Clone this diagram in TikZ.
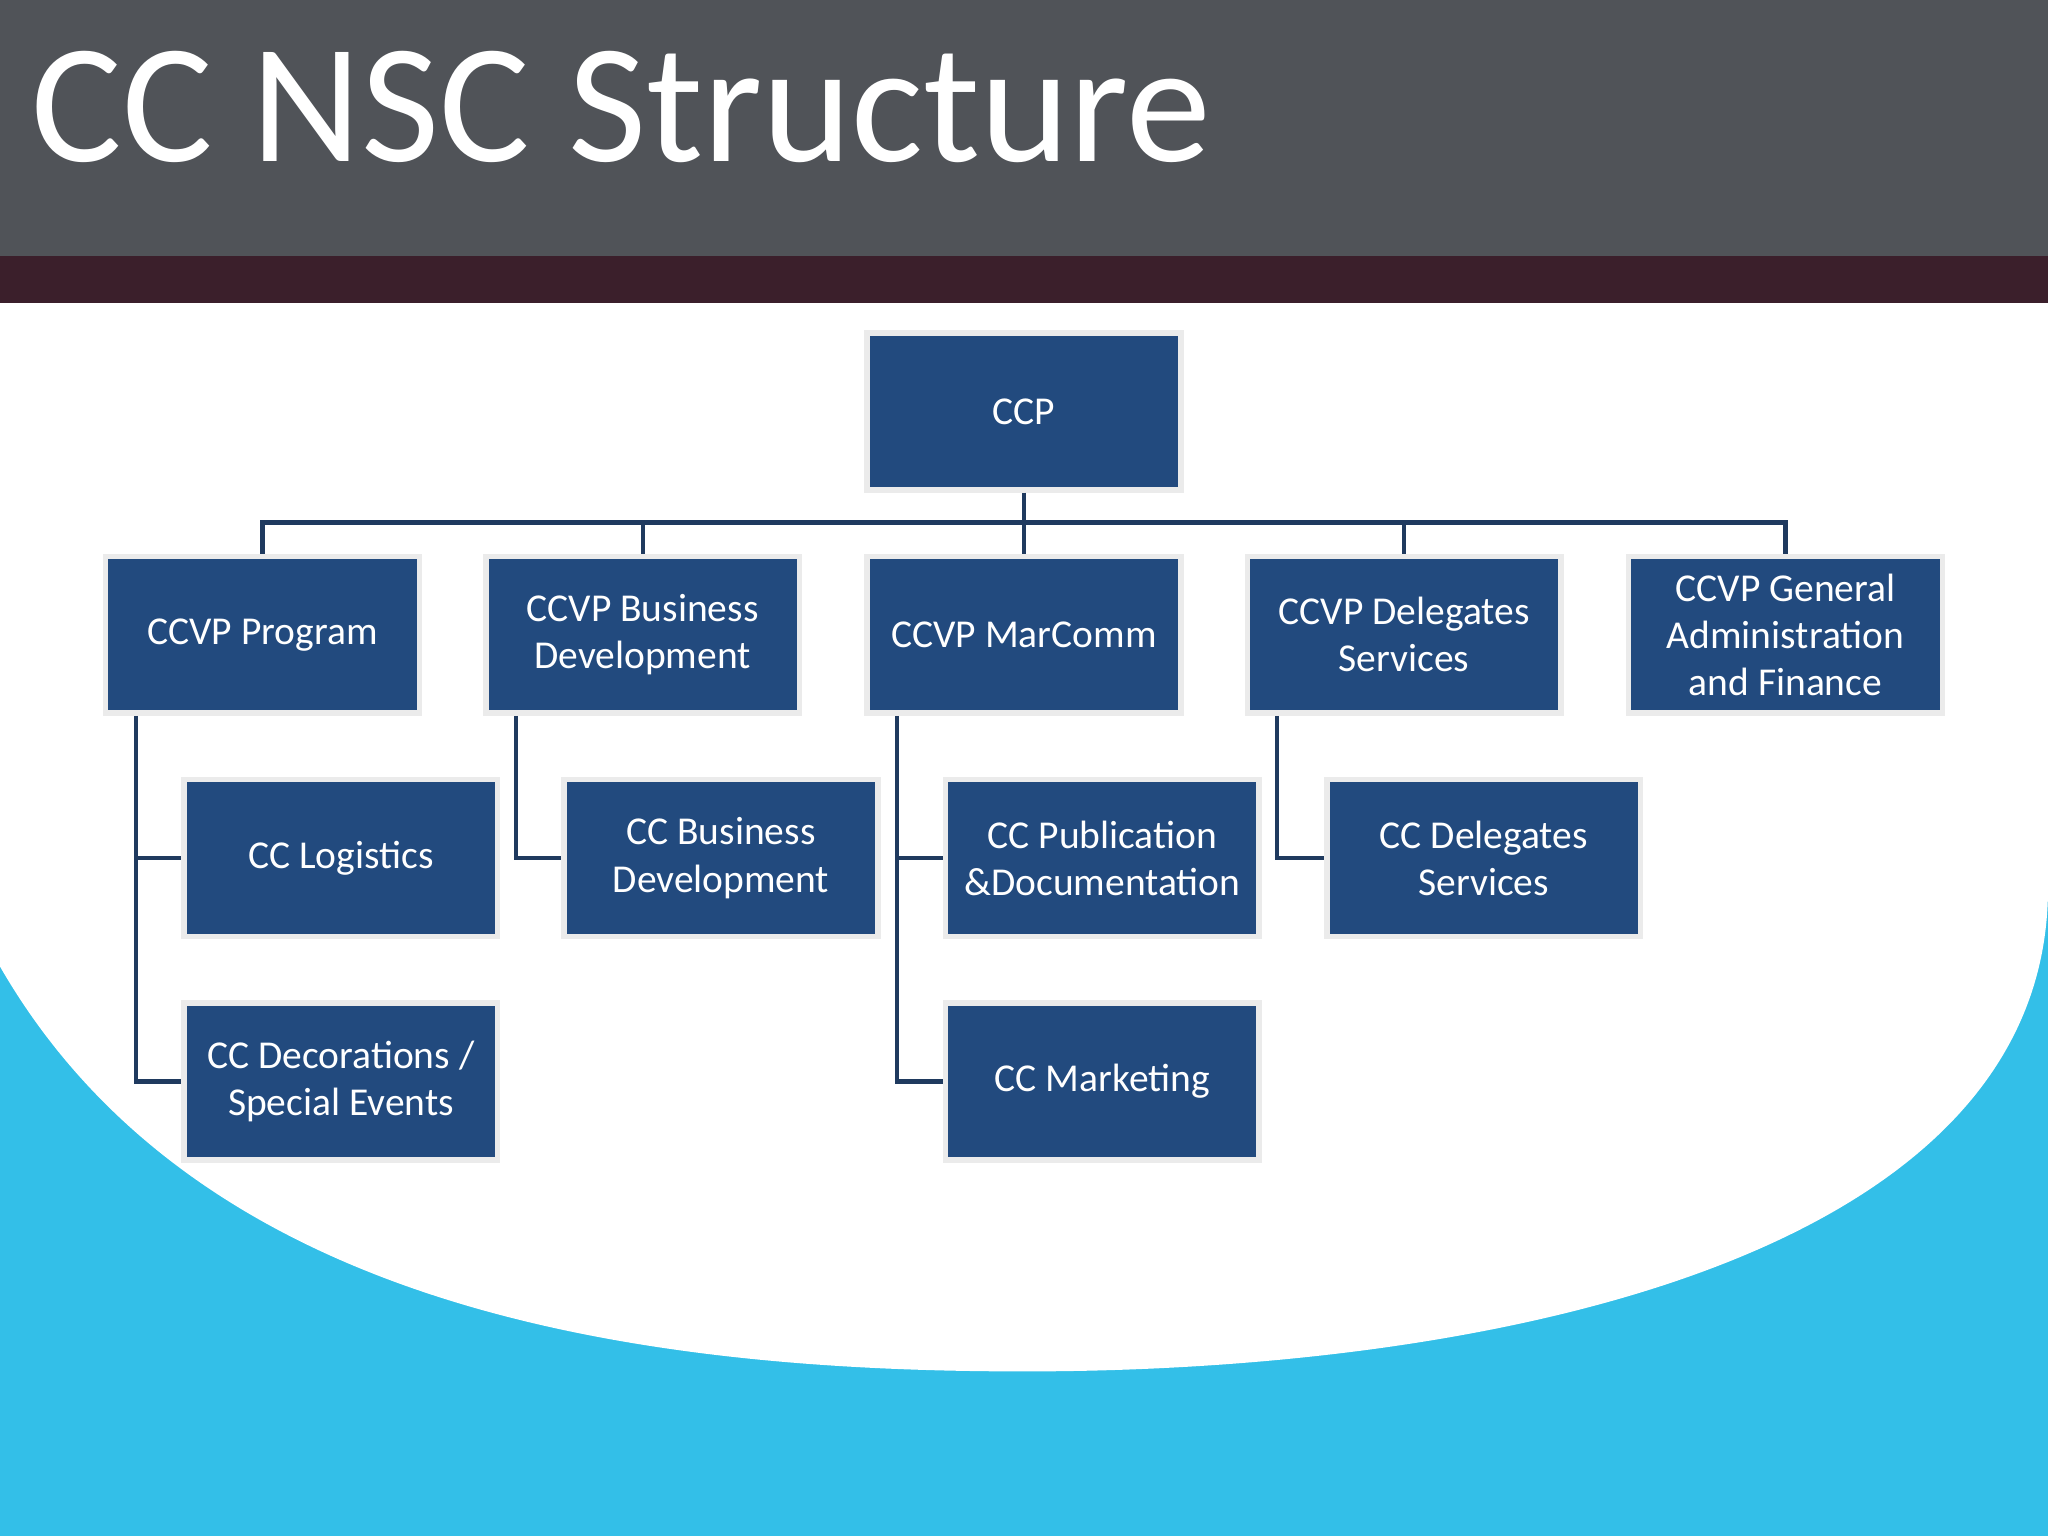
\documentclass[tikz,border=0pt]{standalone}
\usepackage{fontspec}
\setmainfont{Carlito}
\definecolor{hdr}{HTML}{505358}
\definecolor{band}{HTML}{3B1F2B}
\definecolor{sky}{HTML}{33BFE8}
\definecolor{boxc}{HTML}{224A7E}
\definecolor{line}{HTML}{1F3A5F}
\begin{document}
\begin{tikzpicture}[x=0.01cm,y=-0.01cm,
  box/.style={draw=black!8,line width=1.2pt,fill=boxc,text=white,minimum width=2.4cm,minimum height=1.2cm,align=center,inner sep=1pt,font=\fontsize{8.6pt}{10.3pt}\selectfont},
  conn/.style={draw=line,line width=0.9pt}]
\useasboundingbox (0,0) rectangle (1568,1176);
\fill[white] (0,0) rectangle (1568,1176);
\fill[sky] (0,600) rectangle (1568,1176);
\fill[white] (0,590) -- (0,740) .. controls (150,1000) and (480,1050) .. (784,1050) .. controls (1150,1050) and (1568,960) .. (1568,680) -- (1568,590) -- cycle;
\fill[hdr] (0,0) rectangle (1568,196);
\fill[band] (0,196) rectangle (1568,232);
\node[anchor=west,text=white,font=\fontsize{37pt}{40pt}\selectfont] (title) at (12,82) {CC NSC Structure};
\node[box] (ccp) at (784,315) {CCP};
\node[box] (p) at (201,486) {CCVP Program};
\node[box] (b) at (492,486) {CCVP Business\\Development};
\node[box] (m) at (784,486) {CCVP MarComm};
\node[box] (d) at (1075,486) {CCVP Delegates\\Services};
\node[box] (g) at (1367,486) {CCVP General\\Administration\\and Finance};
\node[box] (l) at (261,657) {CC Logistics};
\node[box] (bd) at (552,657) {CC Business\\Development};
\node[box] (pub) at (844,657) {CC Publication\\\&Documentation};
\node[box] (ds) at (1136,657) {CC Delegates\\Services};
\node[box] (dec) at (261,828) {CC Decorations /\\Special Events};
\node[box] (mk) at (844,828) {CC Marketing};
\coordinate (bus) at (784,400);
\draw[conn] (ccp.south) -- (bus);
\draw[conn] (p.north) |- (bus) -| (g.north);
\foreach \n in {b,m,d} \draw[conn] (\n.north) -- (\n.north |- bus);
\draw[conn] (p.south west) ++(25,0) coordinate (pc) |- (dec.west);
\draw[conn] (pc |- l.west) -- (l.west);
\draw[conn] (b.south west) ++(25,0) |- (bd.west);
\draw[conn] (m.south west) ++(25,0) coordinate (mc) |- (mk.west);
\draw[conn] (mc |- pub.west) -- (pub.west);
\draw[conn] (d.south west) ++(25,0) |- (ds.west);
\end{tikzpicture}
\end{document}
